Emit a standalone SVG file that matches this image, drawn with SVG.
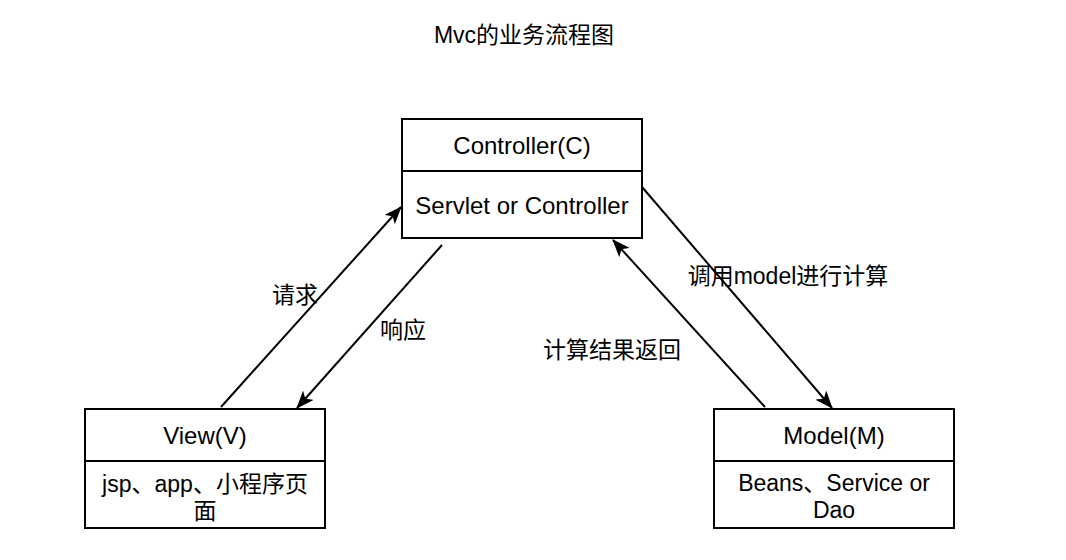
<svg xmlns="http://www.w3.org/2000/svg" width="1066" height="560" viewBox="0 0 1066 560">
<style>
.box{fill:#fff;stroke:#000;stroke-width:2}
.t{font-family:"Liberation Sans","Noto Sans CJK SC",sans-serif;font-size:23px;fill:#000;text-anchor:middle}
.b{font-size:24px}
.e{fill:none;stroke:#000;stroke-width:2}
</style>
<defs>
<marker id="arr" viewBox="0 0 18 14" refX="17" refY="7" markerWidth="18" markerHeight="14" markerUnits="userSpaceOnUse" orient="auto">
<path d="M0,0 L18,7 L0,14 L4.5,7 z" fill="#000"/>
</marker>
</defs>
<rect width="1066" height="560" fill="#fff"/>
<text class="t" x="524" y="43">Mvc的业务流程图</text>
<g id="connectors">
<path class="e" d="M221,407 L401,207" marker-end="url(#arr)"/>
<path class="e" d="M442,245 L297,408" marker-end="url(#arr)"/>
<path class="e" d="M642,187 L832,408" marker-end="url(#arr)"/>
<path class="e" d="M765,407 L613,240" marker-end="url(#arr)"/>
<text class="t" x="295" y="303">请求</text>
<text class="t" x="403" y="338">响应</text>
<text class="t" x="788" y="284">调用model进行计算</text>
<text class="t" x="612" y="358">计算结果返回</text>
</g>
<g id="controller">
<rect class="box" x="402" y="119" width="240" height="119"/>
<line class="e" x1="402" y1="171" x2="642" y2="171"/>
<text class="t b" x="522" y="154">Controller(C)</text>
<text class="t b" x="522" y="214">Servlet or Controller</text>
</g>
<g id="view">
<rect class="box" x="85" y="409" width="240" height="119"/>
<line class="e" x1="85" y1="461" x2="325" y2="461"/>
<text class="t b" x="205" y="444">View(V)</text>
<text class="t" x="205" y="492">jsp、app、小程序页</text>
<text class="t" x="205" y="519">面</text>
</g>
<g id="model">
<rect class="box" x="714" y="409" width="240" height="119"/>
<line class="e" x1="714" y1="461" x2="954" y2="461"/>
<text class="t b" x="834" y="444">Model(M)</text>
<text class="t" x="834" y="491">Beans、Service or</text>
<text class="t" x="834" y="518">Dao</text>
</g>
</svg>
